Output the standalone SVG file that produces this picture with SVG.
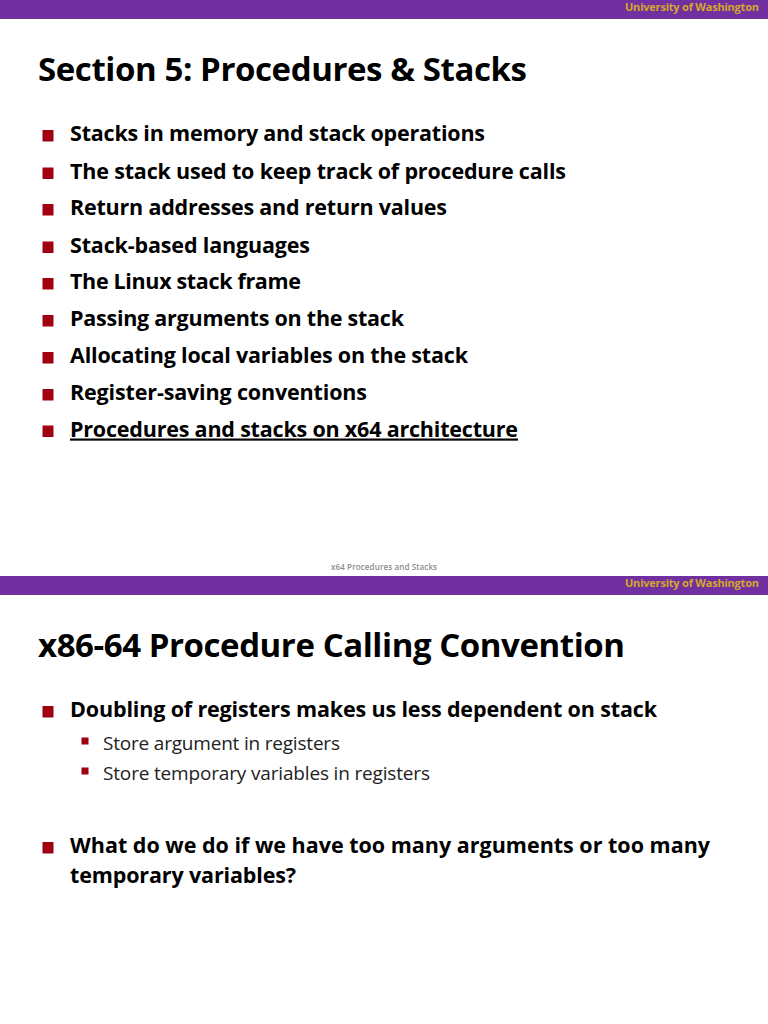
<svg xmlns="http://www.w3.org/2000/svg" width="768" height="1024" viewBox="0 0 768 1024">
<style>
text{font-family:"Open Sans","Noto Sans","Liberation Sans",sans-serif}
.bar{fill:#7030a0}
.uw{font-size:11px;font-weight:700;fill:#d4a62e}
.t{font-size:33px;font-weight:700;fill:#000}
.b{font-size:21.5px;font-weight:700;fill:#000}
.s{font-size:19px;fill:#222}
.bu{fill:#a00010}
</style>
<rect width="768" height="1024" fill="#fff"/>
<rect class="bar" width="768" height="19"/>
<text class="uw" x="625" y="11" textLength="134">University of Washington</text>
<text class="t" x="38" y="81" textLength="489">Section 5: Procedures &amp; Stacks</text>
<g class="bu">
<rect x="42.5" y="130" width="11" height="11.500"/><rect x="42.500" y="167.500" width="11" height="11.500"/><rect x="42.500" y="204" width="11" height="11.500"/><rect x="42.500" y="241.500" width="11" height="11.500"/><rect x="42.500" y="278" width="11" height="11.500"/><rect x="42.500" y="315" width="11" height="11.500"/><rect x="42.500" y="352" width="11" height="11.500"/><rect x="42.500" y="389" width="11" height="11.500"/><rect x="42.500" y="425.500" width="11" height="11.500"/>
</g>
<text class="b" x="70" y="141" textLength="415">Stacks in memory and stack operations</text>
<text class="b" x="70" y="178.500" textLength="496">The stack used to keep track of procedure calls</text>
<text class="b" x="70" y="215" textLength="377">Return addresses and return values</text>
<text class="b" x="70" y="252.500" textLength="240">Stack-based languages</text>
<text class="b" x="70" y="289" textLength="231">The Linux stack frame</text>
<text class="b" x="70" y="326" textLength="334">Passing arguments on the stack</text>
<text class="b" x="70" y="363" textLength="398">Allocating local variables on the stack</text>
<text class="b" x="70" y="400" textLength="297">Register-saving conventions</text>
<text class="b" x="70" y="436.500" textLength="448" text-decoration="underline">Procedures and stacks on x64 architecture</text>
<text x="331" y="570" font-size="8" font-weight="600" fill="#8c8c8c" textLength="106">x64 Procedures and Stacks</text>
<rect class="bar" y="576" width="768" height="19"/>
<text class="uw" x="625" y="587" textLength="134">University of Washington</text>
<text class="t" x="38" y="657" textLength="587">x86-64 Procedure Calling Convention</text>
<g class="bu">
<rect x="42.500" y="706" width="11" height="11.500"/><rect x="81.500" y="737.500" width="7" height="7"/><rect x="81.500" y="767.500" width="7" height="7"/><rect x="42.500" y="842" width="11" height="11.500"/>
</g>
<text class="b" x="70" y="717" textLength="587">Doubling of registers makes us less dependent on stack</text>
<text class="s" x="103" y="750" textLength="237">Store argument in registers</text>
<text class="s" x="103" y="780" textLength="327">Store temporary variables in registers</text>
<text class="b" x="70" y="853" textLength="640">What do we do if we have too many arguments or too many</text>
<text class="b" x="70" y="883" textLength="226">temporary variables?</text>
</svg>
